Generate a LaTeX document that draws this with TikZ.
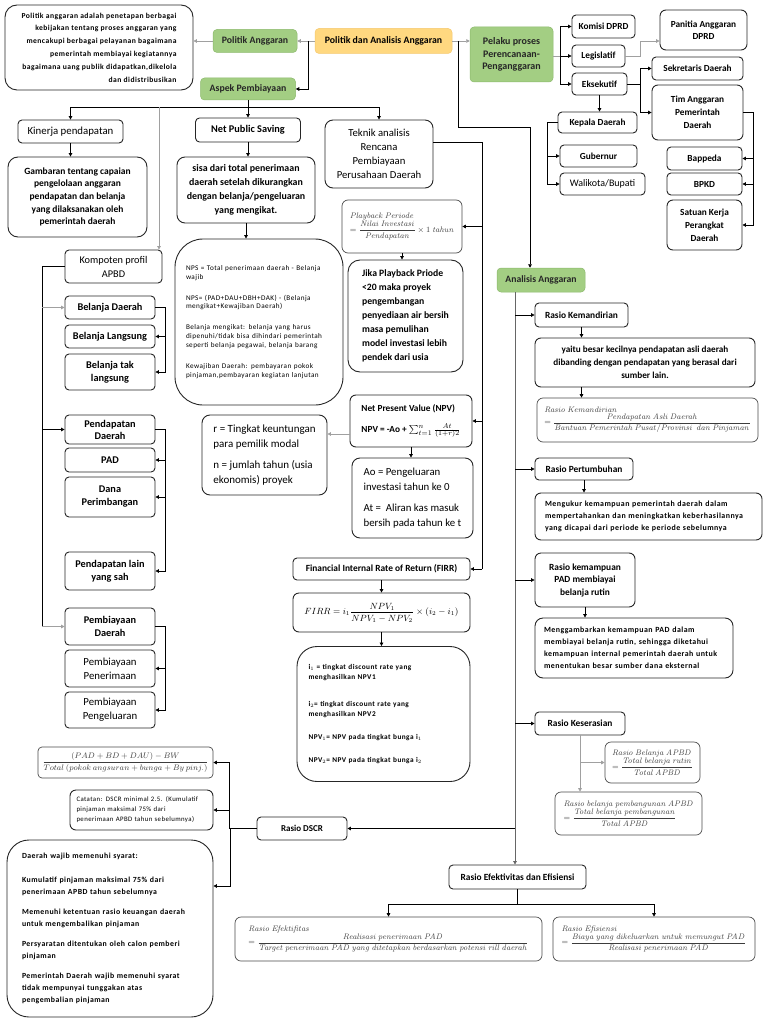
\documentclass[tikz,border=0pt]{standalone}
\usepackage{amsmath}
\usepackage[no-math]{fontspec}
\setmainfont{Carlito}
\newfontfamily\renggang[LetterSpace=6]{Carlito}
\usetikzlibrary{arrows.meta}
\definecolor{hijau}{RGB}{163,206,131}
\definecolor{hijaugaris}{RGB}{140,186,108}
\definecolor{oranye}{RGB}{255,216,128}
\definecolor{oranyegaris}{RGB}{245,200,110}
\definecolor{abu}{RGB}{160,160,160}
\definecolor{rumus}{RGB}{60,60,60}
\tikzset{
  kotak/.style={draw=black!85,line width=0.9pt,rounded corners=4pt,align=center,inner sep=1pt},
  hijaubox/.style={kotak,fill=hijau,draw=hijaugaris,line width=0.5pt,text=black!85},
  ukuran/.style 2 args={minimum width=#1,minimum height=#2},
  tebal/.style 2 args={font=\bfseries\fontsize{#1}{#2}\selectfont},
  biasa/.style 2 args={font=\fontsize{#1}{#2}\selectfont},
  renggangtebal/.style 2 args={font=\renggang\bfseries\fontsize{#1}{#2}\selectfont},
  renggangbiasa/.style 2 args={font=\renggang\fontsize{#1}{#2}\selectfont},
  rumus/.style={kotak,draw=black!70,line width=0.7pt,text=rumus,align=left},
  panah/.style={-{Triangle[length=3.5pt,width=3.6pt]},line width=0.75pt},
  panahabu/.style={panah,draw=abu},
  garis/.style={line width=0.75pt}
}

\begin{document}
\begin{tikzpicture}[x=1pt,y=-1pt]
\fill[white] (0,0) rectangle (768,1024);
\useasboundingbox (0,0) rectangle (768,1024);

\node[kotak,fill=oranye,draw=oranyegaris,line width=0.5pt,ukuran={137}{25},tebal={9.8}{11}] (pda) at (383.5,41) {Politik dan Analisis Anggaran};
\node[hijaubox,ukuran={84}{23},tebal={9.8}{11}] (pa) at (255,41) {Politik Anggaran};
\node[hijaubox,ukuran={95}{22},tebal={9.8}{11}] (ap) at (248,89) {Aspek Pembiayaan};
\node[kotak,rounded corners=12pt,ukuran={188}{85},align=right,renggangtebal={7.6}{12.8}] (padef) at (99,47.5) {Politik anggaran adalah penetapan berbagai\\kebijakan tentang proses anggaran yang\\mencakupi berbagai pelayanan bagaimana\\pemerintah membiayai kegiatannya\\bagaimana uang publik didapatkan,dikelola\\dan didistribusikan};
\node[hijaubox,ukuran={83}{55},tebal={10}{12.5}] (pelaku) at (511.5,54.5) {Pelaku proses\\Perencanaan-\\Penganggaran};

\node[kotak,ukuran={63}{23},tebal={9.3}{10}] (komisi) at (603.5,26.5) {Komisi DPRD};
\node[kotak,ukuran={53}{22},tebal={9.3}{10}] (legis) at (598.5,56) {Legislatif};
\node[kotak,ukuran={55}{22},tebal={9.3}{10}] (eks) at (599.5,84) {Eksekutif};
\node[kotak,rounded corners=6pt,ukuran={87}{40},tebal={9.3}{12.5}] (panitia) at (703.5,30) {Panitia Anggaran\\DPRD};
\node[kotak,ukuran={91}{23},tebal={9.3}{10}] (sekda) at (697.5,68.5) {Sekretaris Daerah};
\node[kotak,rounded corners=6pt,ukuran={91}{55},tebal={9.3}{13}] (tim) at (697.5,112.5) {Tim Anggaran\\Pemerintah\\Daerah};
\node[kotak,ukuran={79}{21},tebal={9.3}{10}] (kepala) at (597.5,122.5) {Kepala Daerah};
\node[kotak,ukuran={77}{22},tebal={9.3}{10}] (gub) at (598.5,156) {Gubernur};
\node[kotak,ukuran={85}{22},biasa={10}{10}] (wali) at (602.5,184) {Walikota/Bupati};
\node[kotak,ukuran={75}{23},tebal={9.3}{10}] (bap) at (704.5,158.5) {Bappeda};
\node[kotak,ukuran={75}{22},tebal={9.3}{10}] (bpkd) at (704.5,184) {BPKD};
\node[kotak,rounded corners=6pt,ukuran={75}{50},tebal={9.3}{13}] (skpd) at (704.5,225) {Satuan Kerja\\Perangkat\\Daerah};

\node[kotak,ukuran={105}{23},biasa={10.8}{11}] (kin) at (70.5,131.5) {Kinerja pendapatan};
\node[kotak,rounded corners=10pt,ukuran={139}{80},tebal={9.5}{12.7}] (gam) at (77.5,197) {Gambaran tentang capaian\\pengelolaan anggaran\\pendapatan dan belanja\\yang dilaksanakan oleh\\pemerintah daerah};
\node[kotak,ukuran={105}{24},tebal={10.3}{11}] (nps) at (248,130) {Net Public Saving};
\node[kotak,rounded corners=8pt,ukuran={138}{66},tebal={9.9}{14}] (sisa) at (246,190) {sisa dari total penerimaan\\daerah setelah dikurangkan\\dengan belanja/pengeluaran\\yang mengikat.};
\node[kotak,rounded corners=28pt,ukuran={168}{166},text width=146,align=left,renggangbiasa={7.2}{8.9}] (npsb) at (259,322) {NPS = Total penerimaan daerah - Belanja\\wajib\\[12pt]NPS= (PAD+DAU+DBH+DAK) - (Belanja\\mengikat+Kewajiban Daerah)\\[12pt]Belanja mengikat: belanja yang harus\\dipenuhi/tidak bisa dihindari pemerintah\\seperti belanja pegawai, belanja barang\\[12pt]Kewajiban Daerah: pembayaran pokok\\pinjaman,pembayaran kegiatan lanjutan};
\node[kotak,rounded corners=8pt,ukuran={108}{68},biasa={10.7}{14}] (tek) at (379,154) {Teknik analisis\\Rencana\\Pembiayaan\\Perusahaan Daerah};
\node[rumus,rounded corners=6pt,ukuran={120}{53},biasa={8.2}{10}] (pb) at (402,226.5) {$\mathit{Playback\ Periode}$\\$=\dfrac{\mathit{Nilai\ Investasi}}{\mathit{Pendapatan}}\times 1\ \mathit{tahun}$};
\node[kotak,rounded corners=12pt,ukuran={115}{112},align=left,tebal={9.7}{13.9}] (jika) at (405.5,316) {Jika Playback Priode\\<20 maka proyek\\pengembangan\\penyediaan air bersih\\masa pemulihan\\model investasi lebih\\pendek dari usia};
\node[kotak,rounded corners=6pt,ukuran={122}{52},align=left,tebal={9.3}{10}] (npv) at (411,421) {Net Present Value (NPV)\\[11pt]NPV = -Ao + $\sum_{t=1}^{n}\frac{At}{(1+r)2}$};
\node[kotak,rounded corners=8pt,ukuran={125}{80},align=left,biasa={11}{15.5}] (rb) at (264.5,455) {r = Tingkat keuntungan\\para pemilik modal\\[5pt]n = jumlah tahun (usia\\ekonomis) proyek};
\node[kotak,rounded corners=8pt,ukuran={121}{80},align=left,biasa={10.8}{15.5}] (ao) at (412.5,498) {Ao = Pengeluaran\\investasi tahun ke 0\\[5pt]At = \ Aliran kas masuk\\bersih pada tahun ke t};
\node[kotak,ukuran={177}{22},tebal={9.4}{10}] (firr) at (381.5,569) {Financial Internal Rate of Return (FIRR)};
\node[kotak,rounded corners=6pt,ukuran={177}{39},biasa={9.2}{11}] (firrf) at (381.5,612.5) {$FIRR = i_1\dfrac{NPV_1}{NPV_1-NPV_2}\times(i_2-i_1)$};
\node[kotak,rounded corners=20pt,ukuran={173}{135},text width=150,align=left,renggangtebal={7.3}{10}] (ibox) at (383.5,714) {i$_1$ = tingkat discount rate yang\\menghasilkan NPV1\\[17pt]i$_2$= tingkat discount rate yang\\menghasilkan NPV2\\[13pt]NPV$_1$= NPV pada tingkat bunga i$_1$\\[13pt]NPV$_2$= NPV pada tingkat bunga i$_2$};

\node[kotak,ukuran={97}{33},biasa={10.3}{14}] (kom) at (113.5,266.5) {Kompoten profil\\APBD};
\node[kotak,ukuran={90}{23},tebal={10.3}{11}] (bd) at (110,307.5) {Belanja Daerah};
\node[kotak,ukuran={90}{23},tebal={10.3}{11}] (bl) at (110,336.5) {Belanja Langsung};
\node[kotak,ukuran={90}{36},tebal={10.3}{13}] (bt) at (110,372) {Belanja tak\\langsung};
\node[kotak,ukuran={90}{29},tebal={10.3}{12}] (pd) at (110,429.5) {Pendapatan\\Daerah};
\node[kotak,ukuran={90}{24},tebal={10.3}{11}] (pad) at (110,460) {PAD};
\node[kotak,ukuran={90}{40},tebal={10.3}{13}] (dana) at (110,497) {Dana\\Perimbangan};
\node[kotak,ukuran={90}{38},tebal={10.3}{13}] (plain) at (110,571) {Pendapatan lain\\yang sah};
\node[kotak,ukuran={90}{37},tebal={10.3}{13}] (pmd) at (110,626.5) {Pembiayaan\\Daerah};
\node[kotak,ukuran={90}{37},biasa={10.8}{14}] (pen) at (110,668.5) {Pembiayaan\\Penerimaan};
\node[kotak,ukuran={90}{36},biasa={10.8}{14}] (peng) at (110,710) {Pembiayaan\\Pengeluaran};

\node[hijaubox,ukuran={88}{24},tebal={9.7}{11}] (aan) at (541,280) {Analisis Anggaran};
\node[kotak,ukuran={93}{24},tebal={9.4}{10}] (rk) at (581.5,315) {Rasio Kemandirian};
\node[kotak,rounded corners=6pt,ukuran={220}{49},tebal={9.2}{12.8}] (yaitu) at (645,362.5) {yaitu besar kecilnya pendapatan asli daerah\\dibanding dengan pendapatan yang berasal dari\\sumber lain.};
\node[rumus,rounded corners=6pt,ukuran={221}{44},biasa={8}{9}] (rkf) at (647.5,420) {$\mathit{Rasio\ Kemandirian}$\\$=\dfrac{\mathit{Pendapatan\ Asli\ Daerah}}{\mathit{Bantuan\ Pemerintah\ Pusat/Provinsi\ \ dan\ Pinjaman}}$};
\node[kotak,ukuran={98}{22},tebal={9.4}{10}] (rp) at (584,469) {Rasio Pertumbuhan};
\node[kotak,rounded corners=6pt,ukuran={227}{47},text width=207,align=left,renggangtebal={7.9}{12}] (meng) at (648.5,516.5) {Mengukur kemampuan pemerintah daerah dalam\\mempertahankan dan meningkatkan keberhasilannya\\yang dicapai dari periode ke periode sebelumnya};
\node[kotak,rounded corners=6pt,ukuran={100}{54},tebal={9.4}{12.5}] (rkp) at (585,580) {Rasio kemampuan\\PAD membiayai\\belanja rutin};
\node[kotak,rounded corners=8pt,ukuran={198}{60},text width=180,align=left,renggangtebal={7.9}{12}] (mgb) at (634,648) {Menggambarkan kemampuan PAD dalam\\membiayai belanja rutin, sehingga diketahui\\kemampuan internal pemerintah daerah untuk\\menentukan besar sumber dana eksternal};
\node[kotak,ukuran={90}{23},tebal={9.4}{10}] (rks) at (580,723.5) {Rasio Keserasian};
\node[rumus,rounded corners=6pt,ukuran={95}{41},biasa={8}{9}] (rbf) at (652.5,762.5) {$\mathit{Rasio\ Belanja\ APBD}$\\$=\dfrac{\mathit{Total\ belanja\ rutin}}{\mathit{Total\ APBD}}$};
\node[rumus,rounded corners=6pt,ukuran={147}{43},biasa={8.4}{9}] (pbf) at (628.5,813.5) {$\mathit{Rasio\ belanja\ pembangunan\ APBD}$\\$=\dfrac{\mathit{Total\ belanja\ pembangunan}}{\mathit{Total\ APBD}}$};
\node[kotak,ukuran={90}{23},tebal={9}{10}] (dscr) at (302,828.5) {Rasio DSCR};
\node[rumus,align=center,ukuran={175}{31},biasa={8.1}{9}] (dsf) at (125.5,762.5) {$\dfrac{(PAD+BD+DAU)-BW}{Total\ (pokok\ angsuran+bunga+By\ pinj.)}$};
\node[kotak,rounded corners=6pt,ukuran={143}{40},text width=130,align=left,renggangbiasa={6.8}{10}] (cat) at (141.5,810) {Catatan: DSCR minimal 2.5. (Kumulatif\\pinjaman maksimal 75\% dari\\penerimaan APBD tahun sebelumnya)};
\node[kotak,rounded corners=22pt,ukuran={206}{177},text width=176,align=left,renggangtebal={7.8}{12}] (dw) at (110,928.5) {Daerah wajib memenuhi syarat:\\[12pt]Kumulatif pinjaman maksimal 75\% dari\\penerimaan APBD tahun sebelumnya\\[8pt]Memenuhi ketentuan rasio keuangan daerah\\untuk mengembalikan pinjaman\\[8pt]Persyaratan ditentukan oleh calon pemberi\\pinjaman\\[8pt]Pemerintah Daerah wajib memenuhi syarat\\tidak mempunyai tunggakan atas\\pengembalian pinjaman};
\node[kotak,ukuran={137}{24},tebal={9.4}{10}] (ree) at (517.5,877) {Rasio Efektivitas dan Efisiensi};
\node[rumus,rounded corners=6pt,ukuran={307}{44},biasa={8.3}{9}] (ef) at (388.5,939) {$\mathit{Rasio\ Efektifitas}$\\$=\dfrac{\mathit{Realisasi\ penerimaan\ PAD}}{\mathit{Target\ penerimaan\ PAD\ yang\ ditetapkan\ berdasarkan\ potensi\ rill\ daerah}}$};
\node[rumus,rounded corners=6pt,ukuran={202}{44},biasa={8.4}{9}] (es) at (654,939) {$\mathit{Rasio\ Efisiensi}$\\$=\dfrac{\mathit{Biaya\ yang\ dikeluarkan\ untuk\ memungut\ PAD}}{\mathit{Realisasi\ penerimaan\ PAD}}$};

\coordinate (kiri) at (308,41);
\coordinate (kanan) at (458,41);
\coordinate (belok) at (530,127);
\coordinate (bus) at (248,107);
\coordinate (buskom) at (159,107);
\coordinate (bustek) at (482,142);
\coordinate (busnr) at (350,434);
\coordinate (buskiri) at (42,626.5);
\coordinate (buspel) at (560,56);
\coordinate (buslp) at (640,41);
\coordinate (trunk) at (515,292);
\coordinate (busdw) at (230,886);
\coordinate (busbawah) at (517,904);

\draw[panahabu] (pda.west) -- (pa.east);
\draw[panahabu] (pa.west) -- (pa.west -| padef.east);
\draw[panah] (kiri) |- (ap.east);
\draw[panahabu] (pda.east) -- (pda.east -| pelaku.west);
\draw[panah] (kanan) |- (belok) -- (belok |- aan.north);
\draw[garis] (ap.south) -- (bus);
\draw[panah] (bus) -| (kin.north);
\draw[panah] (bus) -| (tek.north);
\draw[panah] (bus) -- (bus |- nps.north);
\draw[panahabu] (buskom) -- (buskom |- kom.north);
\draw[panah] (kin.south) -- (kin.south |- gam.north);
\draw[panah] (nps.south) -- (nps.south |- sisa.north);
\draw[panah] (sisa.south) -- (sisa.south |- npsb.north);
\draw[garis] (tek.east |- bustek) -- (bustek) -- (bustek |- firr);
\draw[panah] (bustek |- pb) -- (pb.east);
\draw[panah] (bustek |- npv) -- (npv.east);
\draw[panah] (bustek |- firr) -- (firr.east);
\draw[panah] (pb.south) -- (pb.south |- jika.north);
\draw[panahabu] (busnr) -- (busnr -| rb.east);
\draw[panah] (npv.south) -- (npv.south |- ao.north);
\draw[panah] (firr.south) -- (firr.south |- firrf.north);
\draw[panah] (firrf.south) -- (firrf.south |- ibox.north);

\draw[garis] (kom.west) -| (buskiri);
\draw[panahabu] (buskiri |- bd) -- (bd.west);
\draw[panah] (buskiri |- pd) -- (pd.west);
\draw[panahabu] (buskiri) -- (pmd.west);
\draw[panah] (bd.east) -- ++(10,0) |- (bl.east);
\draw[panah] (bd.east) -- ++(10,0) |- (bt.east);
\draw[panah] (pd.east) -- ++(10,0) |- (pad.east);
\draw[panah] (pd.east) -- ++(10,0) |- (dana.east);
\draw[panah] (pd.east) -- ++(10,0) |- (plain.east);
\draw[panah] (pmd.east) -- ++(10,0) |- (pen.east);
\draw[panah] (pmd.east) -- ++(10,0) |- (peng.east);

\draw[garis,abu] (pelaku.east |- buspel) -- (buspel);
\draw[panah] (buspel) |- (komisi.west);
\draw[panah] (buspel) -- (legis.west);
\draw[panah] (buspel) |- (eks.west);
\draw[panahabu] (legis.east) -| (buslp) -- (buslp -| panitia.west);
\draw[panah] (eks.east) -- ++(13,0) |- (sekda.west);
\draw[panah] (eks.east) -- ++(13,0) |- (tim.west);
\draw[panah] (eks.south) -- (eks.south |- kepala.north);
\draw[panah] (kepala.west) -- ++(-10,0) |- (gub.west);
\draw[panah] (kepala.west) -- ++(-10,0) |- (wali.west);
\draw[panah] (tim.east) -- ++(10,0) |- (bap.east);
\draw[panah] (tim.east) -- ++(10,0) |- (bpkd.east);
\draw[panah] (tim.east) -- ++(10,0) |- (skpd.east);

\draw[panah,draw=black!60] (trunk) -- (trunk |- ree.north);
\draw[panah] (trunk |- rk) -- (rk.west);
\draw[panah] (trunk |- rp) -- (rp.west);
\draw[panah] (trunk |- rkp) -- (rkp.west);
\draw[panah] (trunk |- rks) -- (rks.west);
\draw[panah] (trunk |- dscr) -- (dscr.east);
\draw[panah] (rk.south) -- (rk.south |- yaitu.north);
\draw[panah] (yaitu.south -| rk.south) -- (rk.south |- rkf.north);
\draw[panah] (rp.south) -- (rp.south |- meng.north);
\draw[panah] (rkp.south) -- (rkp.south |- mgb.north);
\draw[panahabu] (rks.south) -- (rks.south |- pbf.north);
\draw[panahabu] (rks.south |- rbf) -- (rbf.west);
\draw[panah] (dscr.west) -- ++(-27,0) |- (dsf.east);
\draw[panah] (dscr.west) -- ++(-27,0) |- (cat.east);
\draw[panah] (dscr.west) -| (busdw) -- (busdw -| dw.east);
\draw[garis] (ree.south) -- (ree.south |- busbawah);
\draw[panah] (busbawah) -| (ef.north);
\draw[panah] (busbawah) -| (es.north);
\end{tikzpicture}
\end{document}
